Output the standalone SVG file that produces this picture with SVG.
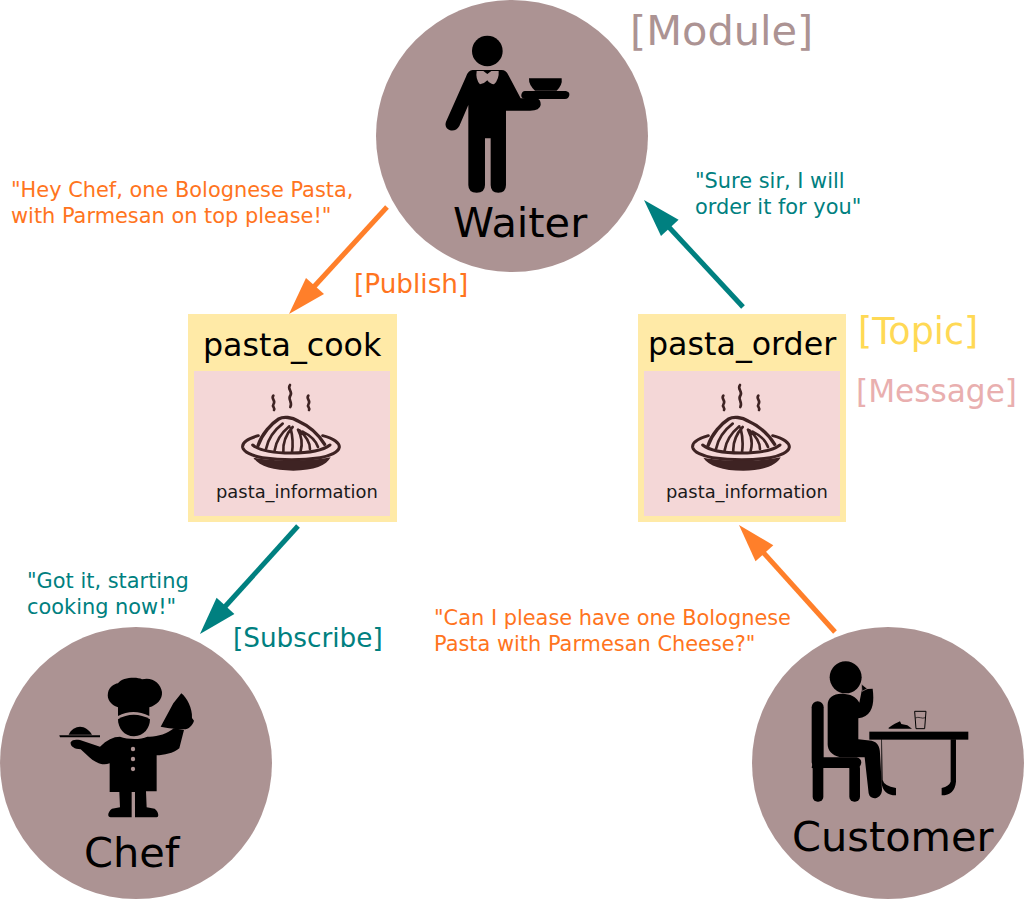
<svg xmlns="http://www.w3.org/2000/svg" xmlns:xlink="http://www.w3.org/1999/xlink" width="1024" height="899" viewBox="0 0 1024 899">
<style>
text{font-family:"DejaVu Sans",sans-serif}
.mod{fill:#ac9393}
.topic{fill:#ffeaa7}
.msg{fill:#f4d7d7}
.name{font-size:41.500px;fill:#000}
.tn{font-size:31.700px;fill:#000}
.info{font-size:17.900px;fill:#1a1a1a}
.or{fill:#ff7420;font-size:20.900px}
.te{fill:#008080;font-size:20.900px}
.ca{stroke:#ff7f2a;stroke-width:5;fill:none}
.ct{stroke:#008080;stroke-width:5;fill:none}
</style>
<defs>
<g id="dish" fill="none" stroke="#3e2323" stroke-linecap="round">
<path d="M130 62c-8 10 8 14 1 24s6 12 1 19M180 30c-10 12 10 20 1 32s8 18 0 34M235 62c-8 10 8 14 1 24s6 12 1 19" stroke-width="8"/>
<path d="M85 182C50 192 36 205 38 217c3 14 30 26 60 31 55 8 120 8 172 0 30-5 56-17 58-31 1-12-16-26-50-35" stroke-width="9"/>
<path d="M68 210c40 32 190 32 232 0" stroke-width="9"/>
<path d="M84 212C96 176 124 146 146 132 160 124 186 126 204 138 240 154 268 182 284 208" stroke-width="10"/>
<path d="M108 222c6-30 24-56 50-76M134 226c4-26 20-52 44-72M160 232c-2-28 8-54 28-76M186 232c4-26 2-48-4-72M212 228c6-22 4-42-8-64M240 222c0-20-14-40-32-56M264 216c-6-18-26-36-46-46" stroke-width="8"/>
<path d="M70 248c60 12 170 12 232-1-12 24-50 40-112 40-62 0-104-14-120-39z" fill="#3e2323" stroke="none"/>
</g>
</defs>
<g id="connectors">
<path class="ca" d="M387 207L311 290"/><path d="M289 314L306 278L324 294Z" fill="#ff7f2a"/>
<path class="ct" d="M743 307L666 224"/><path d="M644 200L678.600 219.700L661 236.100Z" fill="#008080"/>
<path class="ct" d="M298 526L222 610"/><path d="M200 634L234.400 614L216.600 597.800Z" fill="#008080"/>
<path class="ca" d="M835 632L761 550"/><path d="M739 525L773.300 545.300L755.500 561.300Z" fill="#ff7f2a"/>
</g>
<g id="waiter">
<circle class="mod" cx="512" cy="136" r="136"/>
<g transform="translate(430 20) scale(.3333)">
<circle cx="172" cy="93" r="46"/>
<path d="M128 150H215Q228 150 235 165L272 235H320Q333 238 332 255Q330 272 300 272H228V495Q228 518 205 518Q182 518 182 495V355H165V495Q165 518 140 518Q115 518 115 495V255L88 318Q78 335 60 331Q42 324 48 305L108 170Q115 150 128 150Z"/>
<path d="M140 153H160L172 162L184 153H206Q208 178 192 193Q180 192 172 181Q162 192 150 193Q136 178 140 153Z" fill="#ac9393"/>
<path d="M163 151H182L172 160Z"/>
<path d="M297 175H395Q398 195 380 212H315Q296 195 297 175Z"/>
<path d="M285 213H408Q420 216 418 226Q416 237 405 237H285Q272 234 274 224Q276 214 285 213Z"/>
</g>
<text class="name" x="453" y="237">Waiter</text>
</g>
<g id="chef">
<circle class="mod" cx="136" cy="763" r="136"/>
<g transform="translate(40 660) scale(.3333)">
<path d="M234 168V142C212 134 200 118 204 98 208 80 222 72 234 70 246 52 290 50 306 58 336 50 362 68 366 96 368 118 350 136 328 142V168C296 152 264 152 234 168Z"/>
<path d="M234 178C262 160 300 160 330 178 330 204 312 228 282 229 252 229 234 204 234 178Z"/>
<path d="M92 247C96 238 108 238 120 240L180 260C200 240 220 230 240 230 262 238 300 240 322 230 350 232 380 222 402 205L432 210 418 265C400 280 372 286 350 286V394H318L320 442 344 446C356 454 358 472 350 472H285V396H275V472H212C200 472 204 454 216 446L240 442 238 396H209V310C190 318 168 310 148 292L122 268C102 268 90 258 92 247Z"/>
<path d="M362 200L400 130 424 100C440 112 458 146 456 174L462 182C458 196 446 208 432 208 412 208 382 204 362 200Z"/>
<path d="M58 226H180V232H60Z"/>
<path d="M86 224C92 208 108 200 120 200 134 200 148 210 156 224Z"/>
<circle cx="279" cy="267" r="6.500" fill="#ac9393"/><circle cx="279" cy="297" r="6.500" fill="#ac9393"/><circle cx="279" cy="327" r="6.500" fill="#ac9393"/>
</g>
<text class="name" x="84" y="867">Chef</text>
</g>
<g id="customer">
<circle class="mod" cx="888" cy="763" r="136"/>
<g transform="translate(790 650) scale(.3333)">
<circle cx="167" cy="82" r="48"/>
<rect x="65" y="154" width="36" height="200" rx="18"/>
<path d="M70 322H200Q214 326 214 338Q212 352 198 354H65Z"/>
<rect x="68" y="340" width="32" height="115" rx="15"/><rect x="178" y="340" width="32" height="115" rx="15"/>
<path d="M113 165C113 140 135 128 165 132 190 134 200 145 208 158L216 118 248 116C254 160 248 200 205 205L205 268 245 272C262 276 270 290 270 310L276 420C274 450 240 452 236 430L224 322 150 322C124 316 112 300 113 280Z"/>
<path d="M214 102L232 116 216 124Z" stroke="#ac9393" stroke-width="2"/>
<rect x="238" y="245" width="297" height="24"/>
<path d="M276 268L278 390Q282 408 318 414V436Q278 436 274 395V268ZM498 268V395Q494 436 455 436V414Q478 408 482 395V268Z"/>
<path d="M296 233C310 224 320 218 330 214L334 222 352 226 366 236H296Z"/>
<path d="M374 184H408L404 236H378Z" fill="none" stroke="#000" stroke-width="3"/>
<path d="M376 204C386 198 396 208 406 203" fill="none" stroke="#000" stroke-width="2"/>
</g>
<text class="name" x="792" y="851">Customer</text>
</g>
<g id="pasta_cook">
<rect class="topic" x="188" y="314" width="209" height="208"/>
<rect class="msg" x="194" y="371" width="196" height="145"/>
<text class="tn" x="203" y="356">pasta_cook</text>
<use xlink:href="#dish" href="#dish" transform="translate(230 375) scale(.3333)"/>
<text class="info" x="216" y="498">pasta_information</text>
</g>
<g id="pasta_order">
<rect class="topic" x="638" y="314" width="208" height="208"/>
<rect class="msg" x="644" y="371" width="196" height="145"/>
<text class="tn" x="648" y="355">pasta_order</text>
<use xlink:href="#dish" href="#dish" transform="translate(680 375) scale(.3333)"/>
<text class="info" x="666" y="498">pasta_information</text>
</g>
<g id="labels">
<text class="mod" x="630" y="45" font-size="41.500">[Module]</text>
<text class="or" style="font-size:26.300px" x="354" y="293">[Publish]</text>
<text class="te" style="font-size:26.300px" x="233" y="647">[Subscribe]</text>
<text x="858" y="344" font-size="36.500" fill="#ffd955">[Topic]</text>
<text x="856" y="402" font-size="31.200" fill="#e9afaf">[Message]</text>
<text class="or" x="11" y="197">"Hey Chef, one Bolognese Pasta,</text>
<text class="or" x="11" y="223">with Parmesan on top please!"</text>
<text class="te" x="695" y="188">"Sure sir, I will</text>
<text class="te" x="695" y="214">order it for you"</text>
<text class="te" x="27" y="588">"Got it, starting</text>
<text class="te" x="27" y="614">cooking now!"</text>
<text class="or" x="434" y="625">"Can I please have one Bolognese</text>
<text class="or" x="434" y="651">Pasta with Parmesan Cheese?"</text>
</g>
</svg>
